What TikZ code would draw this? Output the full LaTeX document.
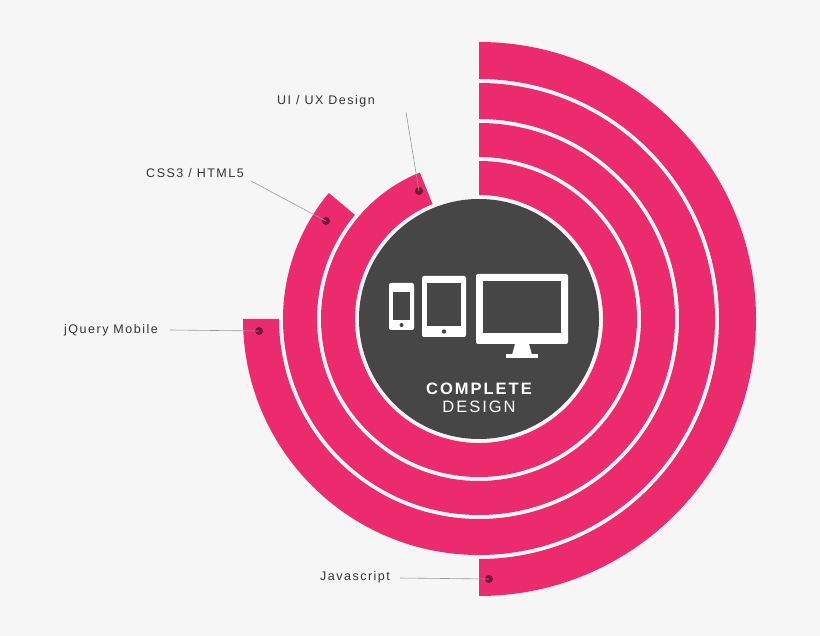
\documentclass[tikz,border=0pt]{standalone}
\usepackage{fontspec}
\setmainfont{Liberation Sans}
\begin{document}
\begin{tikzpicture}[x=1pt,y=-1pt,
  ringfill/.style={fill=ringpink},
  dotm/.style={circle,fill=dotred,inner sep=0pt,minimum size=8pt},
  lbl/.style={font=\fontsize{12.5}{14}\selectfont\addfontfeature{LetterSpace=12},text=black!80},
  leader/.style={draw=gray!80,line width=0.6pt},
  iconw/.style={fill=white,rounded corners=2pt}]
\definecolor{ringpink}{HTML}{EC2A6E}
\definecolor{dotred}{HTML}{7A1535}
\definecolor{darkc}{HTML}{464646}
\definecolor{bgc}{HTML}{F6F6F6}
\fill[bgc] (0,0) rectangle (820,636);
\useasboundingbox (0,0) rectangle (820,636);
\coordinate (c) at (479,319);
\foreach \ri/\ro/\ae in {124/158/248, 162/196/220, 200/236/180, 240/277/90}{
  \fill[ringfill] ([shift={(c)}]-90:\ro) arc[start angle=-90,end angle=\ae,radius=\ro]
    -- ([shift={(c)}]\ae:\ri) arc[start angle=\ae,end angle=-90,radius=\ri] -- cycle;
}
\fill[darkc] (c) circle[radius=120];
% icons
\fill[iconw] (389,283) rectangle (414,330);
\fill[darkc] (393,292) rectangle (410,320);
\fill[darkc] (401.5,325) circle[radius=2];
\fill[iconw] (422,276) rectangle (466,337);
\fill[darkc] (427,283) rectangle (461,326);
\fill[darkc] (444,331.5) circle[radius=2.2];
\fill[iconw] (476,274) rectangle (568,344);
\fill[darkc] (483,281) rectangle (561,333);
\fill[white] (515,344) -- (529,344) -- (532,355) -- (512,355) -- cycle;
\fill[white] (506,354) rectangle (538,358);
\node[font=\bfseries\fontsize{16.5}{18}\selectfont\addfontfeature{LetterSpace=12},text=white] (t1) at (479,389) {COMPLETE};
\node[font=\fontsize{16.5}{18}\selectfont\addfontfeature{LetterSpace=12},text=white] (t2) at (479,407) {DESIGN};
% dots and labels
\node[dotm] (d1) at (419,191) {};
\node[dotm] (d2) at (326,221) {};
\node[dotm] (d3) at (259,331) {};
\node[dotm] (d4) at (489,579) {};
\node[lbl] (l1) at (326,101) {UI / UX Design};
\node[lbl] (l2) at (195,173) {CSS3 / HTML5};
\node[lbl] (l3) at (111,330) {jQuery Mobile};
\node[lbl] (l4) at (355,577) {Javascript};
\coordinate (e1) at (406,112);
\coordinate (e2) at (251,181);
\coordinate (e3) at (170,330);
\coordinate (e4) at (400,578);
\draw[leader] (e1) -- (d1.center);
\draw[leader] (e2) -- (d2.center);
\draw[leader] (e3) -- (d3.center);
\draw[leader] (e4) -- (d4.center);
\end{tikzpicture}
\end{document}
